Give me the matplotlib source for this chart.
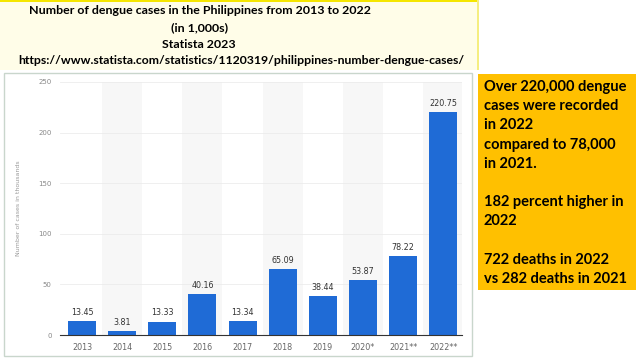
import matplotlib.pyplot as plt
from matplotlib.patches import Rectangle

# data
years = ["2013", "2014", "2015", "2016", "2017", "2018", "2019", "2020*", "2021**", "2022**"]
cases = [13.45, 3.81, 13.33, 40.16, 13.34, 65.09, 38.44, 53.87, 78.22, 220.75]
yticks = [0, 50, 100, 150, 200, 250]

W, H = 638, 359
fig = plt.figure(figsize=(W / 100, H / 100), dpi=100)
fig.patch.set_facecolor("white")

def px(x, y, w, h):
    # pixel box (top-left origin) -> figure fraction
    return [x / W, 1 - (y + h) / H, w / W, h / H]

# light yellow title area
bg = fig.add_axes([0, 0, 1, 1], zorder=-5)
bg.set_xlim(0, W)
bg.set_ylim(H, 0)
bg.axis("off")
bg.add_patch(Rectangle((0, 0), 478, 70, facecolor="#fffde8", edgecolor="none"))
bg.add_patch(Rectangle((0, 0), 478, 2, facecolor="#f5e600", edgecolor="none"))
bg.add_patch(Rectangle((477, 0), 1.5, 70, facecolor="#f5ee80", edgecolor="none"))
# chart frame
bg.add_patch(Rectangle((4, 73), 468, 283, facecolor="white", edgecolor="#c9d6cc", lw=1))
# orange text box
bg.add_patch(Rectangle((478, 74), 158, 216, facecolor="#ffc000", edgecolor="none"))

fig.text(200 / W, 1 - 11 / H, "Number of dengue cases in the Philippines from 2013 to 2022",
         ha="center", va="center", fontsize=8.9, fontweight="bold", family="Lato")
fig.text(200 / W, 1 - 28 / H, "(in 1,000s)", ha="center", va="center",
         fontsize=8.9, fontweight="bold", family="Lato")
fig.text(199 / W, 1 - 44 / H, "Statista 2023", ha="center", va="center",
         fontsize=8.9, fontweight="bold", family="Lato")
fig.text(241 / W, 1 - 60 / H, "https://www.statista.com/statistics/1120319/philippines-number-dengue-cases/",
         ha="center", va="center", fontsize=8.8, fontweight="bold", family="Lato")

box_text = ("Over 220,000 dengue\ncases were recorded\nin 2022\ncompared to 78,000\nin 2021.\n\n"
            "182 percent higher in\n2022\n\n722 deaths in 2022\nvs 282 deaths in 2021")
fig.text(484 / W, 1 - 80 / H, box_text, ha="left", va="top", fontsize=10.5,
         fontweight="bold", family="Lato", linespacing=1.47)

ax = fig.add_axes(px(60, 82, 402, 253))
x = list(range(len(years)))
for i in x:
    if i % 2 == 1:
        ax.axvspan(i - 0.5, i + 0.5, color="#f7f7f7", zorder=0, lw=0)
ax.bar(x, cases, width=0.7, color="#1f6bd6", zorder=3)
for i, v in zip(x, cases):
    ax.text(i, v + 4, f"{v:.2f}", ha="center", va="bottom", fontsize=5.8, color="#333333")

ax.set_xlim(-0.55, 9.47)
ax.set_ylim(0, 250)
ax.set_yticks(yticks)
ax.set_yticklabels([str(t) for t in yticks], fontsize=5, color="#888888")
ax.set_xticks(x)
ax.set_xticklabels(years, fontsize=5.8, color="#666666")
ax.tick_params(length=0, pad=6)
ax.grid(axis="y", color="#ececec", lw=0.6, zorder=1)
for s in ["top", "right", "left"]:
    ax.spines[s].set_visible(False)
ax.spines["bottom"].set_color("#333333")
ax.spines["bottom"].set_linewidth(0.8)
ax.spines["bottom"].set_zorder(4)
ax.set_ylabel("Number of cases in thousands", fontsize=4.5, color="#999999", labelpad=12)
ax.set_facecolor("none")

fig.savefig("out.png", dpi=100, facecolor=fig.get_facecolor())
